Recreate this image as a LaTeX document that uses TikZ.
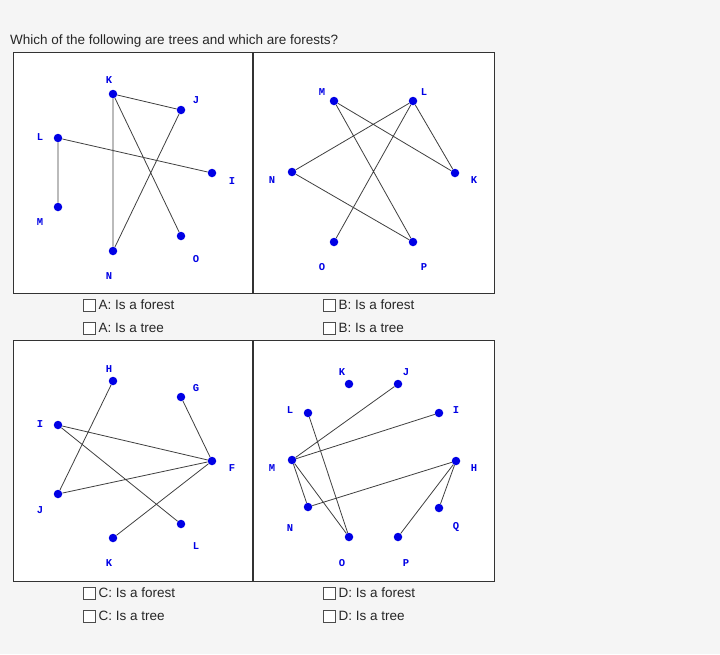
\documentclass[tikz,border=0pt]{standalone}
\usepackage{fontspec}
\setmainfont{Liberation Sans}
\newfontfamily\lblfont{Liberation Mono}
\begin{document}
\begin{tikzpicture}[x=1pt,y=-1pt,
  dot/.style={circle,fill=blue!90!black,inner sep=0pt,minimum size=8.5pt},
  lbl/.style={text=blue!90!black,font=\lblfont\bfseries\fontsize{10.5}{10}\selectfont,inner sep=0pt},
  edge/.style={draw=black!75,line width=0.8pt},
  panel/.style={draw=black!80,fill=white,line width=1pt},
  cb/.style={draw=black!70,fill=white,minimum size=12pt,inner sep=0pt,line width=0.8pt},
  opt/.style={anchor=west,font=\fontsize{13.5}{15}\selectfont,inner sep=0pt,text=black!85}]
\fill[black!4] (0,0) rectangle (720,654);
\useasboundingbox (0,0) rectangle (720,654);
\node[anchor=west,inner sep=0pt,font=\fontsize{13.5}{15}\selectfont,text=black!85] (title) at (10,41) {Which of the following are trees and which are forests?};
\draw[panel] (13,52) rectangle (252,293);
\draw[panel] (253,52) rectangle (494,293);
\draw[panel] (13,340) rectangle (252,581);
\draw[panel] (253,340) rectangle (494,581);
% checkboxes
\foreach \n/\x/\y/\t in {a1/89/305/{A: Is a forest},a2/89/328/{A: Is a tree},b1/329/305/{B: Is a forest},b2/329/328/{B: Is a tree},c1/89/593/{C: Is a forest},c2/89/616/{C: Is a tree},d1/329/593/{D: Is a forest},d2/329/616/{D: Is a tree}}{
  \node[cb] (\n) at (\x,\y) {};
  \node[opt] (\n t) at (\x+9.5,\y) {\t};
}
% panel A
\foreach \n/\x/\y/\lx/\ly in {K/113/94/109/80,J/181/110/196/100,L/58/138/40/137,I/212/173/232/181,M/58/207/40/222,N/113/251/109/276,O/181/236/196/259}{
  \node[dot] (a\n) at (\x,\y) {}; \node[lbl] (al\n) at (\lx,\ly) {\n};}
\draw[edge] (aK)--(aJ) (aK)--(aN) (aK)--(aO) (aJ)--(aN) (aL)--(aI) (aL)--(aM);
% panel B
\foreach \n/\x/\y/\lx/\ly in {M/334/101/322/92,L/413/101/424/92,N/292/172/272/180,K/455/173/474/180,O/334/242/322/267,P/413/242/424/267}{
  \node[dot] (b\n) at (\x,\y) {}; \node[lbl] (bl\n) at (\lx,\ly) {\n};}
\draw[edge] (bM)--(bK) (bM)--(bP) (bL)--(bN) (bL)--(bO) (bL)--(bK) (bN)--(bP);
% panel C
\foreach \n/\x/\y/\lx/\ly in {H/113/381/109/369,G/181/397/196/388,I/58/425/40/424,F/212/461/232/468,J/58/494/40/510,K/113/538/109/563,L/181/524/196/546}{
  \node[dot] (c\n) at (\x,\y) {}; \node[lbl] (cl\n) at (\lx,\ly) {\n};}
\draw[edge] (cH)--(cJ) (cG)--(cF) (cI)--(cF) (cI)--(cL) (cJ)--(cF) (cK)--(cF);
% panel D
\foreach \n/\x/\y/\lx/\ly in {K/349/384/342/372,J/398/384/406/372,L/308/413/290/410,I/439/413/456/410,M/292/460/272/468,H/456/461/474/468,N/308/507/290/528,Q/439/508/456/527,O/349/537/342/563,P/398/537/406/563}{
  \node[dot] (d\n) at (\x,\y) {}; \node[lbl] (dl\n) at (\lx,\ly) {\n};}
\draw[edge] (dM)--(dJ) (dM)--(dI) (dM)--(dN) (dM)--(dO) (dL)--(dO) (dN)--(dH) (dH)--(dP) (dH)--(dQ);
\end{tikzpicture}
\end{document}
